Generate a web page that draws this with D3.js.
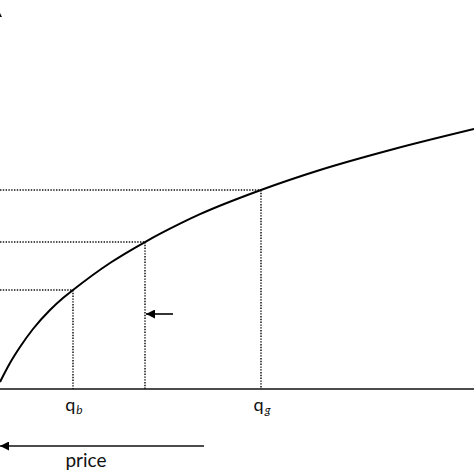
<!DOCTYPE html>
<html>
<head>
<meta charset="utf-8">
<script src="https://cdn.jsdelivr.net/npm/d3@7"></script>
<style>
  html, body { margin: 0; padding: 0; background: #fff; }
  svg { display: block; }
</style>
</head>
<body>
<div id="chart"></div>
<script>
// curve (quantity, value), both on a 0-100 scale
const curveQ = [0, 2.11, 4.22, 6.96, 10.55, 13.29, 15.4, 23.21, 30.59, 37.97, 42.19, 55.06, 67.51, 83.12, 100];
const curveV = [1.84, 6.84, 11.05, 15.79, 20.79, 23.95, 26.05, 33.16, 38.68, 43.5, 46.0, 52.37, 57.63, 63.16, 68.42];

// marked quantities and their values on the curve
const markLabels = ["b", "", "g"];
const markQ = [15.4, 30.59, 55.06];
const markV = [26.05, 38.68, 52.37];

const W = 474, H = 474;
const axisY = 389;
const font = "Lato, 'Noto Sans', sans-serif";

const svg = d3.select("#chart").append("svg")
  .attr("width", W)
  .attr("height", H);

const x = d3.scaleLinear().domain([0, 100]).range([0, 474]);
const y = d3.scaleLinear().domain([0, 100]).range([axisY, 9]);

const defs = svg.append("defs");
defs.append("marker")
  .attr("id", "head")
  .attr("viewBox", "0 0 10 10")
  .attr("refX", 10)
  .attr("refY", 5)
  .attr("markerWidth", 12)
  .attr("markerHeight", 9)
  .attr("markerUnits", "userSpaceOnUse")
  .attr("orient", "auto")
  .append("path")
  .attr("d", "M0,0 L10,5 L0,10 Z")
  .attr("fill", "#000");

// y axis sits just off the left edge, only its arrow tip shows
svg.append("path")
  .attr("d", "M-4,5 L2,17 L-10,17 Z")
  .attr("fill", "#111");

// guide lines
const guides = svg.append("g")
  .attr("stroke", "#111")
  .attr("stroke-width", 1.5)
  .attr("stroke-dasharray", "1.4,1.4")
  .attr("fill", "none");

guides.selectAll(".h")
  .data(markQ)
  .join("line")
  .attr("class", "h")
  .attr("x1", 0)
  .attr("x2", (d) => x(d))
  .attr("y1", (d, i) => y(markV[i]))
  .attr("y2", (d, i) => y(markV[i]));

guides.selectAll(".v")
  .data(markQ)
  .join("line")
  .attr("class", "v")
  .attr("x1", (d) => x(d))
  .attr("x2", (d) => x(d))
  .attr("y1", (d, i) => y(markV[i]))
  .attr("y2", axisY);

// curve
const line = d3.line()
  .x((d) => x(d[0]))
  .y((d) => y(d[1]))
  .curve(d3.curveMonotoneX);

svg.append("path")
  .datum(d3.zip(curveQ, curveV))
  .attr("d", line)
  .attr("fill", "none")
  .attr("stroke", "#000")
  .attr("stroke-width", 2);

// quantity axis
svg.append("line")
  .attr("x1", 0)
  .attr("x2", W)
  .attr("y1", axisY)
  .attr("y2", axisY)
  .attr("stroke", "#111")
  .attr("stroke-width", 1.6);

// small arrow pointing at the middle guide
svg.append("line")
  .attr("x1", x(markQ[1]) + 28)
  .attr("x2", x(markQ[1]) + 1)
  .attr("y1", 314)
  .attr("y2", 314)
  .attr("stroke", "#000")
  .attr("stroke-width", 1.6)
  .attr("marker-end", "url(#head)");

// q labels
const labels = svg.selectAll(".ql")
  .data(markQ.filter((d, i) => markLabels[i]))
  .join("text")
  .attr("class", "ql")
  .attr("x", (d) => x(d) + 1)
  .attr("y", 411)
  .attr("text-anchor", "middle")
  .attr("font-family", font)
  .attr("font-size", "18px")
  .attr("fill", "#111");

labels.append("tspan").text("q");
labels.append("tspan")
  .attr("font-size", "12px")
  .attr("font-style", "italic")
  .attr("dx", 1)
  .attr("dy", 3)
  .text((d) => markLabels[markQ.indexOf(d)]);

// price arrow
svg.append("line")
  .attr("x1", 204)
  .attr("x2", 0)
  .attr("y1", 446)
  .attr("y2", 446)
  .attr("stroke", "#111")
  .attr("stroke-width", 1.6)
  .attr("marker-end", "url(#head)");

svg.append("text")
  .attr("x", 86)
  .attr("y", 467)
  .attr("text-anchor", "middle")
  .attr("font-family", font)
  .attr("font-size", "19px")
  .attr("fill", "#111")
  .text("price");
</script>
</body>
</html>
